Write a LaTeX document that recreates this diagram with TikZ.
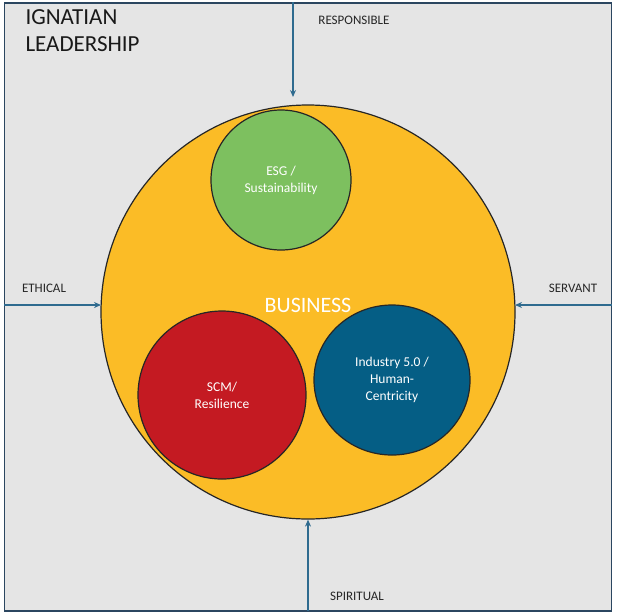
\documentclass[tikz,border=0pt]{standalone}
\usepackage{fontspec}
\setmainfont{Carlito}
\usetikzlibrary{arrows.meta,shapes.geometric}
\definecolor{frame}{HTML}{2B4660}
\definecolor{arr}{HTML}{2F6B8F}
\definecolor{yel}{HTML}{FBBC26}
\definecolor{grn}{HTML}{7DC05F}
\definecolor{rd}{HTML}{C41A22}
\definecolor{bl}{HTML}{055E85}
\tikzset{lab/.style={font=\fontsize{13}{15}\selectfont,text=black!85},
 inner/.style={draw=black!85,line width=1.2pt},
 ctext/.style={font=\fontsize{13.5}{17}\selectfont,text=white,align=center},
 arrw/.style={draw=arr,line width=1.2pt,-{Stealth[length=7pt,width=6pt]}}}
\begin{document}
\begin{tikzpicture}[x=1pt,y=-1pt]
\useasboundingbox (0,0) rectangle (617,614);
\node[draw=frame,fill=black!10,line width=1.5pt,minimum width=607pt,minimum height=608pt,inner sep=0pt] (frame) at (308,307) {};
\node[inner,fill=yel,circle,minimum size=414pt,inner sep=0pt] (bus) at (308,312) {};
\node[inner,fill=grn,circle,minimum size=140pt,inner sep=0pt] (esg) at (281,180) {};
\node[inner,fill=rd,circle,minimum size=168pt,inner sep=0pt] (scm) at (222,395) {};
\node[inner,fill=bl,ellipse,minimum width=156pt,minimum height=150pt,inner sep=0pt] (ind) at (392,380) {};
\node[ctext] at (esg) {ESG /\\Sustainability};
\node[ctext] at (scm) {SCM/\\Resilience};
\node[ctext] at (ind) {Industry 5.0 /\\Human-\\Centricity};
\node[font=\fontsize{22}{26}\selectfont,text=white] (bt) at (308,305) {BUSINESS};
\node[font=\fontsize{23}{27}\selectfont,align=left,anchor=north west,text=black!90] (title) at (22,6) {IGNATIAN\\LEADERSHIP};
\coordinate (t) at (293,2); \coordinate (l) at (4,305); \coordinate (r) at (612,305); \coordinate (b) at (308,611);
\draw[arrw] (t) -- (293,97);
\draw[arrw] (l) -- (101,305);
\draw[arrw] (r) -- (515,305);
\draw[arrw] (b) -- (bus.south);
\node[lab] (resp) at (354,20) {RESPONSIBLE};
\node[lab] (eth) at (44,288) {ETHICAL};
\node[lab] (serv) at (573,288) {SERVANT};
\node[lab] (spir) at (357,596) {SPIRITUAL};
\end{tikzpicture}
\end{document}
